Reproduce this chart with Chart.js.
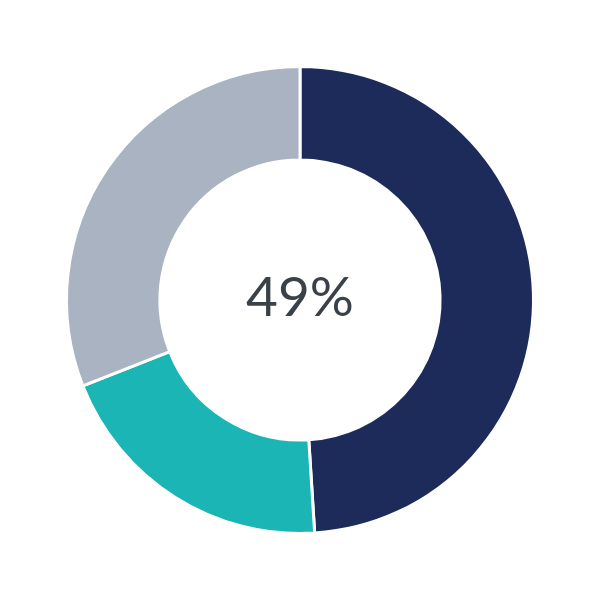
<!DOCTYPE html>
<html>
<head>
<meta charset="utf-8">
<script src="https://cdn.jsdelivr.net/npm/chart.js@4/dist/chart.umd.min.js"></script>
<style>
html,body{margin:0;padding:0;background:#fff;}
#wrap{position:relative;width:600px;height:600px;}
#center{position:absolute;left:0;top:-5px;width:600px;height:600px;display:flex;align-items:center;justify-content:center;font-family:Lato,"Open Sans",sans-serif;font-size:55px;color:#3b4149;pointer-events:none;}
</style>
</head>
<body>
<div id="wrap">
<canvas id="c" width="600" height="600"></canvas>
<div id="center">49%</div>
</div>
<script>
const categories = ["Navy", "Teal", "Gray"];
const values = [49, 20, 31];
const colors = ["#1c2b5a", "#1bb5b5", "#a9b3c2"];

new Chart(document.getElementById('c'), {
  type: 'doughnut',
  data: {
    labels: categories,
    datasets: [{
      data: values,
      backgroundColor: colors,
      borderColor: '#ffffff',
      borderWidth: 3,
      hoverOffset: 0
    }]
  },
  options: {
    responsive: false,
    animation: false,
    cutout: '60%',
    layout: { padding: 65 },
    plugins: { legend: { display: false }, tooltip: { enabled: false } }
  }
});
</script>
</body>
</html>
